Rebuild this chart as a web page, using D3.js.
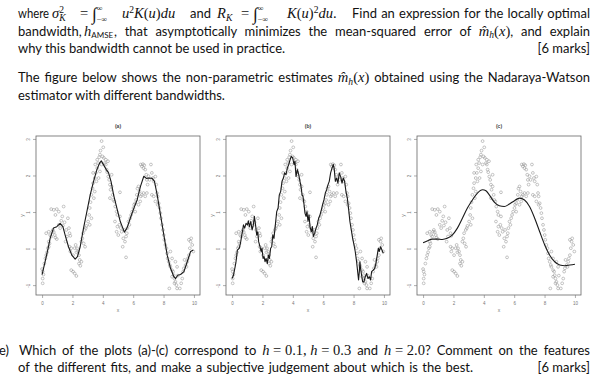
<!DOCTYPE html>
<html><head><meta charset="utf-8">
<script src="https://cdn.jsdelivr.net/npm/d3@7/dist/d3.min.js"></script>
<style>body{margin:0;background:#fff}svg{display:block}</style>
</head><body>
<svg id="c" width="612" height="383"></svg>
<script>
// ---------------- data ----------------
const ptX = [0.00,0.04,0.09,0.04,0.04,0.15,0.22,0.27,0.33,0.38,0.44,0.49,0.44,0.27,0.44,0.53,0.60,0.66,0.71,0.77,0.84,0.88,0.97,0.60,0.77,0.97,0.88,1.10,
1.10,1.19,1.26,1.33,1.37,1.42,1.48,1.59,1.70,1.77,1.81,1.86,1.81,1.86,1.92,2.04,1.92,2.04,2.15,2.26,1.64,1.55,
2.21,2.30,2.37,2.43,2.48,2.43,2.52,2.59,2.59,2.65,2.70,2.81,2.88,2.92,2.74,2.83,2.15,2.26,
3.03,3.10,3.14,3.19,3.25,3.32,3.36,3.47,3.54,3.63,3.69,3.76,3.81,3.85,3.92,3.14,3.25,3.41,3.47,3.58,3.72,3.81,3.92,3.98,4.03,3.63,3.50,3.36,
4.07,4.14,4.20,4.25,4.29,4.36,4.42,4.47,4.51,4.58,4.65,4.69,4.76,4.82,4.91,4.96,4.47,4.80,4.91,4.96,4.20,4.34,4.58,
5.02,5.09,5.13,5.18,5.24,5.31,5.35,5.46,5.53,5.58,5.62,5.69,5.75,5.80,5.86,5.93,5.13,5.40,5.53,
6.02,6.06,6.13,6.19,6.24,6.28,6.35,6.42,6.46,6.50,6.50,6.57,6.64,6.68,6.73,6.79,6.86,6.90,6.95,7.01,6.57,6.68,6.79,6.90,6.13,6.35,
7.08,7.17,7.23,7.30,7.35,7.46,7.52,7.57,7.61,7.68,7.74,7.79,7.83,7.90,7.96,7.23,7.35,7.46,7.61,
8.01,8.05,8.12,8.19,8.23,8.27,8.34,8.41,8.45,8.56,8.63,8.67,8.72,8.78,8.85,8.89,8.38,8.94,8.56,8.72,8.45,8.56,8.78,8.89,
9.07,9.16,9.23,9.29,9.34,9.45,9.51,9.56,9.67,9.73,9.78,9.82,9.89,9.96,9.67,9.60,9.38];
const ptY = [-0.56,-0.63,-0.71,-0.82,-0.95,-0.41,-0.27,-0.18,-0.10,0.01,0.05,0.14,0.19,0.42,0.46,0.37,0.33,0.46,0.51,0.45,0.37,0.30,0.26,1.08,1.06,1.08,0.92,1.01,
0.65,0.56,0.76,0.88,0.63,1.15,0.72,0.51,0.83,0.56,0.42,0.35,0.05,-0.08,0.01,-0.18,-0.59,-0.63,-0.68,-0.75,0.33,0.19,
0.10,0.01,-0.08,-0.18,-0.31,-0.41,-0.47,-0.36,0.19,0.28,0.42,0.51,0.56,0.62,0.14,0.05,0.01,-0.10,
0.74,0.92,1.11,1.27,1.47,1.65,1.79,1.93,2.07,2.20,2.34,2.50,2.57,2.68,2.94,0.65,0.83,1.38,1.56,1.84,1.93,2.11,2.30,2.52,2.77,2.43,2.30,2.07,
2.48,2.34,2.30,2.16,2.09,1.97,1.88,1.75,1.61,1.70,1.47,1.33,1.29,1.15,1.01,0.92,1.38,0.74,0.46,0.60,2.43,2.39,2.02,
0.37,0.65,0.88,0.56,0.46,0.05,0.28,0.19,-0.24,0.42,0.56,0.74,0.65,0.83,0.92,1.01,1.54,0.51,0.33,
1.11,1.20,1.24,1.33,1.47,1.64,1.70,1.56,1.29,1.43,2.30,2.25,2.31,2.20,2.28,2.16,2.02,1.88,1.75,1.98,1.47,1.52,1.43,1.52,1.01,1.20,
1.88,2.30,2.07,1.93,1.84,1.97,1.75,1.52,1.43,1.24,1.11,0.97,0.83,0.65,0.51,1.47,1.43,1.29,1.20,
0.37,0.24,0.10,0.01,-0.13,-0.27,-0.36,-0.45,-0.50,-0.59,-0.63,-0.73,-0.82,-0.91,-1.00,-1.09,-1.09,-0.74,-0.77,-0.95,-0.08,-0.27,-0.36,-0.50,
-1.09,-0.95,-0.82,-0.63,-0.54,-0.45,-0.50,-0.36,-0.18,0.01,0.19,0.28,0.10,-0.08,0.24,-0.27,-0.31];

// fit (a)
const fitAx = [0,0.2,0.42,0.53,0.75,0.97,1.19,1.37,1.52,1.74,1.96,2.18,2.33,2.51,2.73,2.95,3.17,3.39,3.61,3.79,3.9,4.05,4.23,4.38,4.54,4.71,4.93,5.15,5.42,5.59,5.81,6.04,6.26,6.48,6.7,6.87,7.03,7.25,7.4,7.58,7.8,8.02,8.24,8.46,8.68,8.79,8.94,9.12,9.34,9.56,9.78,9.96];
const fitAy = [-0.71,-0.36,0.05,0.28,0.56,0.60,0.69,0.60,0.37,0.05,-0.18,-0.29,-0.22,0.05,0.56,1.01,1.47,1.84,2.16,2.34,2.40,2.29,2.16,2.07,1.84,1.47,1.10,0.74,0.45,0.56,0.83,1.10,1.33,1.70,1.98,1.92,1.93,1.92,1.84,1.47,0.92,0.37,-0.18,-0.54,-0.77,-0.82,-0.73,-0.71,-0.63,-0.36,-0.08,-0.04];
// fit (b)
const fitBx = [0.00,0.09,0.20,0.26,0.35,0.48,0.57,0.64,0.70,0.75,0.83,0.92,1.01,1.07,1.14,1.23,1.32,1.40,1.47,1.56,1.62,1.69,1.75,1.84,1.91,1.97,2.04,2.11,2.17,2.24,2.32,2.39,2.46,2.54,2.61,2.68,2.76,2.85,2.94,3.03,3.11,3.20,3.29,3.38,3.46,3.55,3.64,3.73,3.82,3.90,3.99,4.08,4.14,4.21,4.30,4.39,4.47,4.54,4.61,4.67,4.74,4.80,4.87,4.93,5.00,5.07,5.13,5.22,5.29,5.35,5.44,5.53,5.61,5.70,5.79,5.88,5.96,6.05,6.14,6.23,6.32,6.40,6.49,6.58,6.67,6.73,6.80,6.89,6.97,7.06,7.15,7.24,7.32,7.41,7.50,7.59,7.68,7.76,7.85,7.94,8.03,8.11,8.20,8.27,8.33,8.38,8.42,8.46,8.53,8.60,8.68,8.77,8.86,8.95,9.04,9.12,9.19,9.30,9.39,9.47,9.56,9.63,9.69,9.78,9.87,9.96];
const fitBy = [-0.82,-0.73,-0.50,-0.36,-0.04,0.01,0.19,0.37,0.51,0.65,0.56,0.69,0.65,0.76,0.60,0.74,0.51,0.65,0.88,0.60,0.37,0.46,0.19,0.05,-0.08,0.01,-0.27,-0.22,-0.36,-0.27,-0.41,-0.18,-0.27,0.01,0.05,0.37,0.28,0.65,1.01,1.11,1.47,1.56,1.84,1.93,2.07,2.02,2.20,2.30,2.43,2.52,2.48,2.30,2.39,1.97,2.16,2.02,1.84,1.70,1.47,1.43,1.20,0.97,0.88,1.01,0.74,0.92,0.60,0.46,0.60,0.33,0.42,0.56,0.65,0.83,0.92,1.06,1.20,1.33,1.52,1.61,1.75,1.84,2.07,2.20,2.30,2.16,1.84,1.93,1.79,2.07,1.97,1.79,1.93,1.84,1.56,1.38,1.06,0.74,0.51,0.28,0.10,-0.08,-0.36,-0.63,-0.86,-0.63,-0.36,-0.54,-0.73,-0.91,-0.91,-0.77,-0.68,-0.82,-0.77,-0.86,-0.63,-0.59,-0.54,-0.41,-0.18,0.01,-0.08,0.05,-0.04,-0.13];
// fit (c)
const fitCx = [0,0.27,0.6,0.93,1.26,1.59,1.92,2.26,2.59,2.92,3.25,3.58,3.92,4.14,4.36,4.69,5.02,5.35,5.69,6.02,6.35,6.68,7.01,7.35,7.68,8.01,8.34,8.67,9.0,9.34,9.67,10];
const fitCy = [0.16,0.21,0.26,0.26,0.25,0.28,0.37,0.56,0.83,1.11,1.33,1.52,1.61,1.58,1.47,1.27,1.17,1.15,1.22,1.31,1.38,1.33,1.15,0.83,0.46,0.10,-0.18,-0.36,-0.45,-0.47,-0.45,-0.43];

const xTicks = [0,2,4,6,8,10];
const xTickLabels = ["0","2","4","6","8","10"];
const yTicks = [-1,0,1,2,3];
const yTickLabels = ["-1","0","1","2","3"];
const panelTitles = ["(a)","(b)","(c)"];

// ---------------- layout ----------------
const svg = d3.select("#c");
svg.append("rect").attr("width",612).attr("height",383).attr("fill","#fff");

const panelLeft = [36, 226, 417];
const boxW = 164, boxTop = 136, boxBot = 295;
const fits = [[fitAx,fitAy],[fitBx,fitBy],[fitCx,fitCy]];
const pts = ptX.map((x,i)=>[x,ptY[i]]);
const AX = "Liberation Sans, Arial, sans-serif";

panelLeft.forEach((L,k)=>{
  const g = svg.append("g");
  const xs = d3.scaleLinear().domain([-0.4,10.4]).range([L, L+boxW]);
  const ys = d3.scaleLinear().domain([-1.27,3.08]).range([boxBot, boxTop]);
  g.append("g").selectAll("circle").data(pts).join("circle")
    .attr("cx",d=>xs(d[0])).attr("cy",d=>ys(d[1])).attr("r",1.4)
    .attr("fill","none").attr("stroke","#959595").attr("stroke-width",0.55);
  const fx = fits[k][0], fy = fits[k][1];
  const lineGen = k===2 ? d3.line().curve(d3.curveMonotoneX).x(d=>xs(d[0])).y(d=>ys(d[1]))
                        : d3.line().x(d=>xs(d[0])).y(d=>ys(d[1]));
  g.append("path").datum(fx.map((x,i)=>[x,fy[i]])).attr("d",lineGen)
    .attr("fill","none").attr("stroke","#1a1a1a").attr("stroke-width",1.1).attr("stroke-linejoin","round");
  g.append("rect").attr("x",L).attr("y",boxTop).attr("width",boxW).attr("height",boxBot-boxTop)
    .attr("fill","none").attr("stroke","#666").attr("stroke-width",0.8);
  const xa = g.append("g").attr("transform",`translate(0,${boxBot})`)
    .call(d3.axisBottom(xs).tickValues(xTicks).tickSize(3).tickFormat((d,i)=>xTickLabels[i]));
  xa.select(".domain").remove();
  xa.selectAll("line").attr("stroke","#777").attr("stroke-width",0.6);
  xa.selectAll("text").attr("font-size",4.5).attr("font-family",AX).attr("fill","#777").attr("dy","0.9em");
  const ya = g.append("g").attr("transform",`translate(${L},0)`)
    .call(d3.axisLeft(ys).tickValues(yTicks).tickSize(3).tickFormat((d,i)=>yTickLabels[i]));
  ya.select(".domain").remove();
  ya.selectAll("line").attr("stroke","#777").attr("stroke-width",0.6);
  ya.selectAll("text").attr("font-size",4.5).attr("font-family",AX).attr("fill","#777")
    .attr("x",null).attr("dy",null).attr("text-anchor","middle")
    .attr("transform","translate(-6,0) rotate(-90)");
  g.append("text").attr("x",L+boxW/2).attr("y",boxTop-8).attr("text-anchor","middle")
    .attr("font-size",5).attr("font-weight","bold").attr("font-family",AX).attr("fill","#444").text(panelTitles[k]);
  g.append("text").attr("x",L+boxW/2).attr("y",boxBot+17).attr("text-anchor","middle")
    .attr("font-size",5).attr("font-family",AX).attr("fill","#777").text("x");
  g.append("text").attr("transform",`translate(${L-12},${(boxTop+boxBot)/2}) rotate(-90)`).attr("text-anchor","middle")
    .attr("font-size",5).attr("font-family",AX).attr("fill","#777").text("y");
});

// ---------------- text ----------------
const SANS = "Lato, 'Open Sans', 'DejaVu Sans', sans-serif";
const SERIF = "'Liberation Serif', 'DejaVu Serif', serif";
const TXT = "#111";
const tg = svg.append("g");

let FS = 13;
{
  const probe = tg.append("text").attr("font-family",SANS).attr("font-size",13).text("estimator with different bandwidths.");
  FS = 13 * 207 / probe.node().getComputedTextLength();
  probe.remove();
}
const MS = 1.12; // math size factor

function mk(seg){
  const fam = seg.f==="s" ? SANS : SERIF;
  const base = seg.f==="s" ? FS : FS*MS;
  const t = tg.append("text").attr("font-family",fam).attr("font-size",base*(seg.sz||1))
    .attr("fill",TXT).attr("font-style",seg.f==="i"?"italic":"normal").style("white-space","pre").text(seg.t);
  if (seg.w) t.attr("textLength",seg.w).attr("lengthAdjust","spacingAndGlyphs");
  return t;
}
const width = el => el.node().getComputedTextLength();
// segments grouped by anchors (.at); a group with .fill stretches its spaces up to the next anchor (or .to / right margin)
function rich(y, segs){
  const groups=[]; let cur=null;
  segs.forEach(s=>{
    if (s.at!==undefined || !cur){ cur={at:s.at, fill:s.fill, to:s.to, items:[]}; groups.push(cur); }
    cur.items.push(s);
  });
  groups.forEach((g,gi)=>{
    const items = g.items.map(s=> s.stack ? {stack:s.stack.map(ss=>({seg:ss,el:mk(ss)}))} : {seg:s, el:mk(s)});
    let total=0, spaces=0;
    items.forEach(it=>{
      if (it.stack){ it.w = d3.max(it.stack, e=>width(e.el)); it.ns=0; }
      else { it.w = it.seg.w || width(it.el); it.ns = it.seg.f==="s" ? (it.seg.t.match(/ /g)||[]).length : 0; spaces += it.ns; }
      total += it.w;
    });
    let ws = 0;
    if (g.fill && spaces>0){
      const end = g.to!==undefined ? g.to : (gi+1<groups.length ? groups[gi+1].at - 3.5 : 590);
      ws = (end - g.at - total)/spaces;
    }
    let x = g.at;
    items.forEach(it=>{
      if (it.stack){ it.stack.forEach(e=>e.el.attr("x",x).attr("y",y+(e.seg.dy||0))); x += it.w; }
      else {
        it.el.attr("x",x).attr("y",y+(it.seg.dy||0));
        if (ws && it.ns) it.el.attr("word-spacing",ws);
        x += it.w + it.ns*ws;
      }
    });
  });
}
function right(xr, y, str){
  tg.append("text").attr("x",xr).attr("y",y).attr("text-anchor","end")
    .attr("font-family",SANS).attr("font-size",FS).attr("fill",TXT).text(str);
}
const S = (t,o={})=>Object.assign({t,f:"s"},o), I = (t,o={})=>Object.assign({t,f:"i"},o), Rm=(t,o={})=>Object.assign({t,f:"r"},o);
const A = (at, seg, fill, to)=>Object.assign({}, seg, {at, fill, to});
const sup = (t,f="r")=>({t,f,sz:0.66,dy:-5.5});
const sub = (t,f="i")=>({t,f,sz:0.66,dy:2.5});
const integral = at => [A(at, Rm("∫",{sz:1.2,dy:1.5})), {stack:[{t:"∞",f:"r",sz:0.55,dy:-7.5},{t:"−∞",f:"r",sz:0.55,dy:3.5}]}];

rich(18, [A(18,S("where",{w:31})),
  A(52,I("σ")), {stack:[sup("2"), sub("K")]},
  A(80,Rm("=")),
  ...integral(92),
  A(122,I("u")), sup("2"), I("K"), Rm("("), I("u"), Rm(")"), I("du"),
  A(190,S("and")),
  A(217,I("R")), sub("K"),
  A(241,Rm("=")),
  ...integral(253),
  A(287,I("K")), Rm("("), I("u"), Rm(")"), sup("2"), I("du"), Rm("."),
  A(352,S("Find an expression for the locally optimal"),true)]);

rich(35.5, [A(18,S("bandwidth,")),
  A(84,I("h")), {t:"AMSE",f:"s",sz:0.62,dy:2.5},
  A(114,S(", that asymptotically minimizes the mean-squared error of "),true),
  I("m̂"), sub("h"), Rm("("), I("x"), Rm(")"), S(", and explain")]);

rich(53, [A(18,S("why this bandwidth cannot be used in practice."))]);
right(590, 53, "[6 marks]");

rich(82, [A(18,S("The figure below shows the non-parametric estimates "),true),
  I("m̂"), sub("h"), Rm("("), I("x"), Rm(")"), S(" obtained using the Nadaraya-Watson")]);
rich(99.5, [A(18,S("estimator with different bandwidths."))]);

rich(354.5, [A(-1,S("e)")),
  A(19,S("Which of the plots (a)-(c) correspond to "),true),
  I("h"), Rm(" = 0.1, "), I("h"), Rm(" = 0.3"), S(" and "), I("h"), Rm(" = 2.0"), S("? Comment on the features")]);
rich(372, [A(18,S("of the different fits, and make a subjective judgement about which is the best."),true,473)]);
right(590, 372, "[6 marks]");
</script>
</body></html>
